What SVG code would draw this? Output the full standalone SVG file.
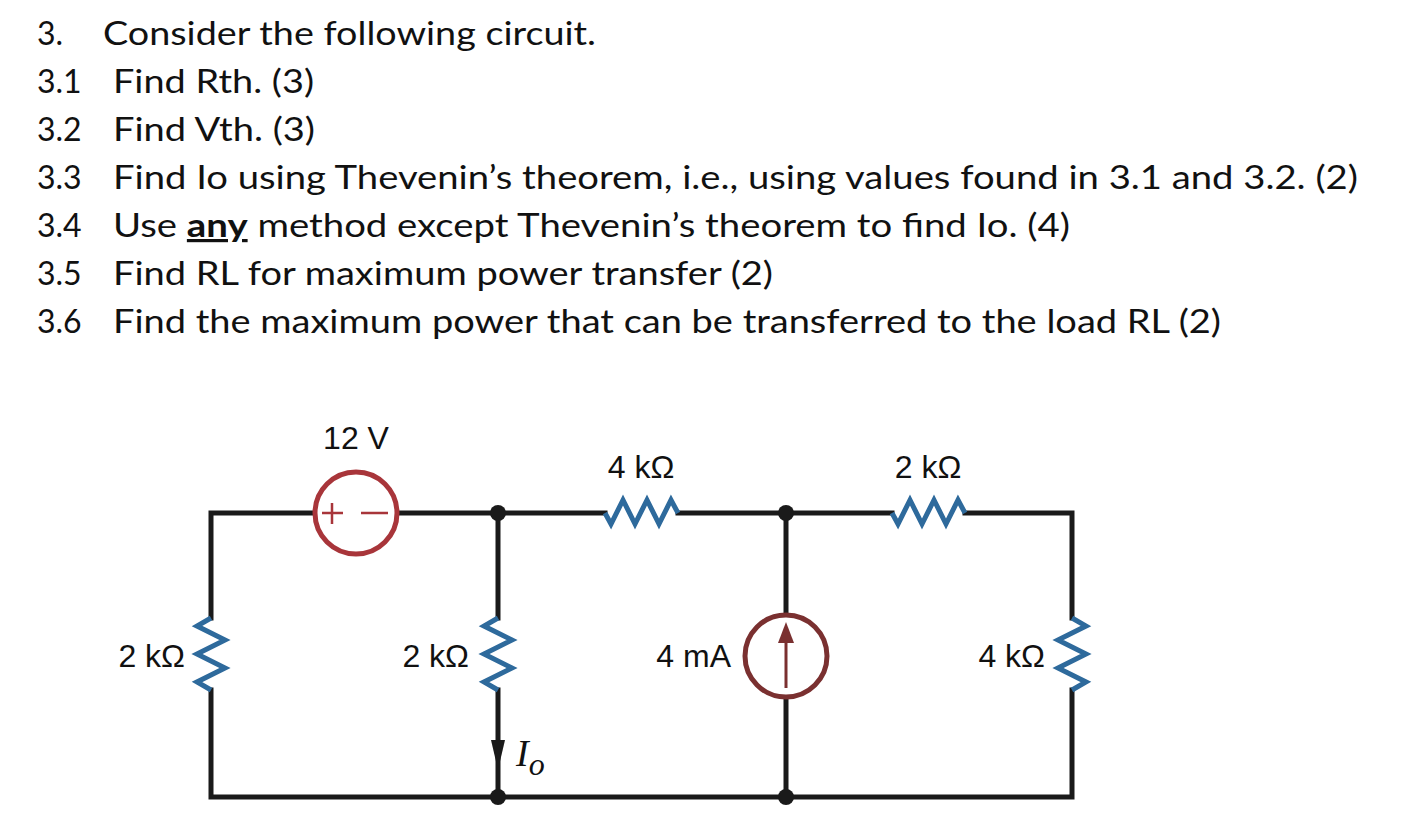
<svg xmlns="http://www.w3.org/2000/svg" width="1402" height="840" viewBox="0 0 1402 840">
<style>
.q{font-family:Lato,"Liberation Sans",sans-serif;font-size:32px;fill:#111}
.l{font-family:"Liberation Sans",Arial,sans-serif;font-size:32px;fill:#111}
.w{stroke:#1a1a1a;stroke-width:5;fill:none;stroke-linecap:square}
.r{stroke:#2e6a9c;stroke-width:5;fill:none;stroke-linejoin:miter}
.s{stroke:#a8353a;stroke-width:5;fill:#fff}
.c{stroke:#7a3030;stroke-width:5;fill:#fff}
</style>
<rect width="1402" height="840" fill="#fff"/>
<g id="text">
<text class="q" x="37" y="45">3.</text><text class="q" x="103" y="45" textLength="493" lengthAdjust="spacingAndGlyphs">Consider the following circuit.</text>
<text class="q" x="37" y="93">3.1</text><text class="q" x="113" y="93" textLength="201" lengthAdjust="spacingAndGlyphs">Find Rth. (3)</text>
<text class="q" x="37" y="141">3.2</text><text class="q" x="113" y="141" textLength="202" lengthAdjust="spacingAndGlyphs">Find Vth. (3)</text>
<text class="q" x="37" y="189">3.3</text><text class="q" x="113" y="189" textLength="1245" lengthAdjust="spacingAndGlyphs">Find Io using Thevenin’s theorem, i.e., using values found in 3.1 and 3.2. (2)</text>
<text class="q" x="37" y="237">3.4</text><text class="q" x="113" y="237" textLength="957" lengthAdjust="spacingAndGlyphs">Use <tspan font-weight="bold" text-decoration="underline">any</tspan> method except Thevenin’s theorem to find Io. (4)</text>
<text class="q" x="37" y="285">3.5</text><text class="q" x="113" y="285" textLength="660" lengthAdjust="spacingAndGlyphs">Find RL for maximum power transfer (2)</text>
<text class="q" x="37" y="333">3.6</text><text class="q" x="113" y="333" textLength="1108" lengthAdjust="spacingAndGlyphs">Find the maximum power that can be transferred to the load RL (2)</text>
</g>
<g id="connectors">
<path class="w" d="M211 618 V513 H314 M398 513 H605 M678 513 H892 M965 513 H1072 V618 M1072 690 V797 H211 V690 M498 513 V618 M498 690 V797 M786 513 V614 M786 698 V797"/>
<path d="M491 740 L505 740 L498 770 Z" fill="#1a1a1a"/>
</g>
<g id="R1"><path class="r" d="M211 618 L197 626 L225 640 L197 654 L225 668 L197 682 L211 690"/><text class="l" x="185" y="667" text-anchor="end">2 kΩ</text></g>
<g id="R2"><path class="r" d="M498 618 L484 626 L512 640 L484 654 L512 668 L484 682 L498 690"/><text class="l" x="469" y="667" text-anchor="end">2 kΩ</text></g>
<g id="R3"><path class="r" d="M1072 618 L1086 626 L1058 640 L1086 654 L1058 668 L1086 682 L1072 690"/><text class="l" x="1045" y="667" text-anchor="end">4 kΩ</text></g>
<g id="R4"><path class="r" d="M605 513 L611 524 L623 500 L635 524 L647 500 L659 524 L671 500 L678 513"/><text class="l" x="641" y="478" text-anchor="middle">4 kΩ</text></g>
<g id="R5"><path class="r" d="M892 513 L898 524 L910 500 L922 524 L934 500 L946 524 L958 500 L965 513"/><text class="l" x="928" y="478" text-anchor="middle">2 kΩ</text></g>
<g id="V1"><circle class="s" cx="356" cy="513" r="41"/><path d="M322 513 H343 M332 503 V524 M361 513 H388" stroke="#a8353a" stroke-width="2.5"/><text class="l" x="356" y="449" text-anchor="middle">12 V</text></g>
<g id="I1"><circle class="c" cx="786" cy="656" r="41"/><path d="M786 688 V640" stroke="#7a3030" stroke-width="3"/><path d="M778 643 L794 643 L786 622 Z" fill="#7a3030"/><text class="l" x="731" y="667" text-anchor="end">4 mA</text></g>
<g id="nodes" fill="#1a1a1a"><circle cx="498" cy="513" r="8"/><circle cx="786" cy="513" r="8"/><circle cx="498" cy="797" r="8"/><circle cx="786" cy="797" r="8"/></g>
<text x="516" y="766" font-family="Liberation Serif,serif" font-style="italic" font-size="38" fill="#111">I<tspan font-size="32" dy="9">o</tspan></text>
</svg>
